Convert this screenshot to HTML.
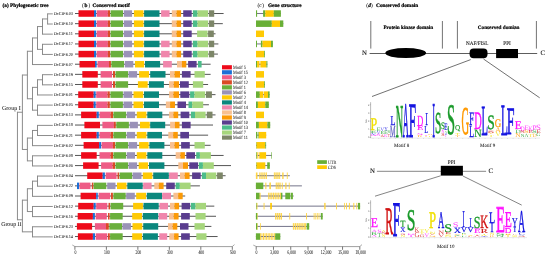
<!DOCTYPE html>
<html><head><meta charset="utf-8"><style>
html,body{margin:0;padding:0;background:#fff;width:550px;height:257px;overflow:hidden}
svg{display:block;will-change:transform}
text{font-family:"Liberation Serif",serif;text-rendering:geometricPrecision}
.lb{font-size:4.35px;fill:#222;stroke:#222;stroke-width:0.03px}
.lg{font-size:4.85px;fill:#222;stroke:#222;stroke-width:0.03px}
.ax{font-size:5.7px;fill:#222;stroke:#222;stroke-width:0.05px}
.hd{font-size:5.25px;font-weight:bold;fill:#000;stroke:#000;stroke-width:0.22px}
.gp{font-size:6.0px;fill:#222;stroke:#222;stroke-width:0.06px}
.dh{font-size:5.2px;font-weight:bold;fill:#000;stroke:#000;stroke-width:0.2px}
.dm{font-size:5.2px;fill:#111;stroke:#111;stroke-width:0.08px}
.nc{font-size:6.8px;fill:#111;stroke:#111;stroke-width:0.1px}
.mt{font-size:5.0px;fill:#111;stroke:#111;stroke-width:0.04px}
.lo{font-family:"Liberation Serif",serif;font-size:10px}
.tk{font-size:2.6px;fill:#555}
</style></head><body>
<svg width="550" height="257" viewBox="0 0 550 257">
<rect width="550" height="257" fill="#fff"/>
<path d="M47.60 13.43L47.60 24.47 M47.60 13.88L52.80 13.88 M47.60 24.02L52.80 24.02 M42.50 18.50L42.50 34.60 M42.50 18.95L47.60 18.95 M42.50 34.15L52.80 34.15 M42.50 43.84L42.50 54.88 M42.50 44.29L52.80 44.29 M42.50 54.43L52.80 54.43 M37.50 26.10L37.50 49.81 M37.50 26.55L42.50 26.55 M37.50 49.36L42.50 49.36 M32.50 37.51L32.50 65.02 M32.50 37.96L37.50 37.96 M32.50 64.56L52.80 64.56 M42.50 74.25L42.50 85.29 M42.50 74.70L52.80 74.70 M42.50 84.84L52.80 84.84 M37.50 79.32L37.50 95.43 M37.50 79.77L42.50 79.77 M37.50 94.98L52.80 94.98 M37.50 104.66L37.50 115.70 M37.50 105.11L52.80 105.11 M37.50 115.25L52.80 115.25 M32.50 86.92L32.50 110.63 M32.50 87.37L37.50 87.37 M32.50 110.18L37.50 110.18 M27.40 50.81L27.40 99.23 M27.40 51.26L32.50 51.26 M27.40 98.78L32.50 98.78 M37.50 124.94L37.50 135.97 M37.50 125.39L52.80 125.39 M37.50 135.52L52.80 135.52 M32.50 130.01L32.50 146.11 M32.50 130.46L37.50 130.46 M32.50 145.66L52.80 145.66 M32.50 155.35L32.50 166.38 M32.50 155.80L52.80 155.80 M32.50 165.94L52.80 165.94 M27.40 137.61L27.40 161.32 M27.40 138.06L32.50 138.06 M27.40 160.87L32.50 160.87 M22.40 74.57L22.40 149.91 M22.40 75.02L27.40 75.02 M22.40 149.46L27.40 149.46 M37.50 175.62L37.50 186.66 M37.50 176.07L52.80 176.07 M37.50 186.21L52.80 186.21 M32.50 180.69L32.50 196.80 M32.50 181.14L37.50 181.14 M32.50 196.35L52.80 196.35 M32.50 206.03L32.50 217.07 M32.50 206.48L52.80 206.48 M32.50 216.62L52.80 216.62 M27.40 188.29L27.40 212.00 M27.40 188.74L32.50 188.74 M27.40 211.55L32.50 211.55 M32.50 226.31L32.50 237.34 M32.50 226.76L52.80 226.76 M32.50 236.89L52.80 236.89 M22.40 199.70L22.40 232.28 M22.40 200.15L27.40 200.15 M22.40 231.83L32.50 231.83 M17.45 111.79L17.45 220.20 M17.45 112.24L22.40 112.24 M17.45 219.75L22.40 219.75" stroke="#7f7f7f" stroke-width="0.9" fill="none"/>
<text x="53.7" y="14.98" class="lb">DcCIPK03</text>
<text x="53.7" y="25.12" class="lb">DcCIPK10</text>
<text x="53.7" y="35.25" class="lb">DcCIPK11</text>
<text x="53.7" y="45.39" class="lb">DcCIPK17</text>
<text x="53.7" y="55.53" class="lb">DcCIPK20</text>
<text x="53.7" y="65.67" class="lb">DcCIPK07</text>
<text x="53.7" y="75.80" class="lb">DcCIPK19</text>
<text x="53.7" y="85.94" class="lb">DcCIPK15</text>
<text x="53.7" y="96.08" class="lb">DcCIPK01</text>
<text x="53.7" y="106.21" class="lb">DcCIPK05</text>
<text x="53.7" y="116.35" class="lb">DcCIPK13</text>
<text x="53.7" y="126.49" class="lb">DcCIPK18</text>
<text x="53.7" y="136.62" class="lb">DcCIPK21</text>
<text x="53.7" y="146.76" class="lb">DcCIPK02</text>
<text x="53.7" y="156.90" class="lb">DcCIPK08</text>
<text x="53.7" y="167.03" class="lb">DcCIPK06</text>
<text x="53.7" y="177.17" class="lb">DcCIPK04</text>
<text x="53.7" y="187.31" class="lb">DcCIPK22</text>
<text x="53.7" y="197.45" class="lb">DcCIPK09</text>
<text x="53.7" y="207.58" class="lb">DcCIPK12</text>
<text x="53.7" y="217.72" class="lb">DcCIPK16</text>
<text x="53.7" y="227.86" class="lb">DcCIPK23</text>
<text x="53.7" y="237.99" class="lb">DcCIPK14</text>
<line x1="75" y1="13.53" x2="223.6" y2="13.53" stroke="#555" stroke-width="1"/>
<rect x="78.5" y="10.28" width="15.50" height="6.5" fill="#ee0a1a"/>
<rect x="94" y="10.28" width="2.10" height="6.5" fill="#1a6fd6"/>
<rect x="96.7" y="10.28" width="11.20" height="6.5" fill="#ee5c86"/>
<rect x="107.9" y="10.28" width="2.20" height="6.5" fill="#da4a26"/>
<rect x="110.6" y="10.28" width="12.40" height="6.5" fill="#6aaf3c"/>
<rect x="123.8" y="10.28" width="8.30" height="6.5" fill="#9a92b8"/>
<rect x="133.9" y="10.28" width="9.60" height="6.5" fill="#ffca04"/>
<rect x="144.1" y="10.28" width="15.40" height="6.5" fill="#0a877d"/>
<rect x="161.1" y="10.28" width="8.50" height="6.5" fill="#f086ac"/>
<rect x="171.8" y="10.28" width="4.70" height="6.5" fill="#f8c090"/>
<rect x="176.5" y="10.28" width="4.60" height="6.5" fill="#fb9a06"/>
<rect x="183.2" y="10.28" width="8.50" height="6.5" fill="#5a3d8e"/>
<rect x="192.9" y="10.28" width="4.60" height="6.5" fill="#4cbc8a"/>
<rect x="197.5" y="10.28" width="10.60" height="6.5" fill="#a6d67c"/>
<rect x="208.9" y="10.28" width="5.30" height="6.5" fill="#7d8668"/>
<line x1="75" y1="23.67" x2="222.8" y2="23.67" stroke="#555" stroke-width="1"/>
<rect x="78.5" y="20.42" width="15.50" height="6.5" fill="#ee0a1a"/>
<rect x="94" y="20.42" width="2.10" height="6.5" fill="#1a6fd6"/>
<rect x="96.7" y="20.42" width="11.20" height="6.5" fill="#ee5c86"/>
<rect x="107.9" y="20.42" width="2.20" height="6.5" fill="#da4a26"/>
<rect x="110.6" y="20.42" width="12.40" height="6.5" fill="#6aaf3c"/>
<rect x="123.8" y="20.42" width="8.30" height="6.5" fill="#9a92b8"/>
<rect x="133.9" y="20.42" width="9.60" height="6.5" fill="#ffca04"/>
<rect x="144.1" y="20.42" width="15.40" height="6.5" fill="#0a877d"/>
<rect x="171.8" y="20.42" width="4.70" height="6.5" fill="#f8c090"/>
<rect x="176.5" y="20.42" width="4.60" height="6.5" fill="#fb9a06"/>
<rect x="183.2" y="20.42" width="8.50" height="6.5" fill="#5a3d8e"/>
<rect x="192.9" y="20.42" width="4.60" height="6.5" fill="#4cbc8a"/>
<rect x="197.5" y="20.42" width="10.60" height="6.5" fill="#a6d67c"/>
<rect x="208.9" y="20.42" width="5.30" height="6.5" fill="#7d8668"/>
<line x1="75" y1="33.80" x2="215.5" y2="33.80" stroke="#555" stroke-width="1"/>
<rect x="78.5" y="30.55" width="15.50" height="6.5" fill="#ee0a1a"/>
<rect x="94" y="30.55" width="2.10" height="6.5" fill="#1a6fd6"/>
<rect x="96.7" y="30.55" width="11.20" height="6.5" fill="#ee5c86"/>
<rect x="107.9" y="30.55" width="2.20" height="6.5" fill="#da4a26"/>
<rect x="110.6" y="30.55" width="12.40" height="6.5" fill="#6aaf3c"/>
<rect x="123.8" y="30.55" width="8.30" height="6.5" fill="#9a92b8"/>
<rect x="133.9" y="30.55" width="9.60" height="6.5" fill="#ffca04"/>
<rect x="144.1" y="30.55" width="15.40" height="6.5" fill="#0a877d"/>
<rect x="171.8" y="30.55" width="4.70" height="6.5" fill="#f8c090"/>
<rect x="176.5" y="30.55" width="4.60" height="6.5" fill="#fb9a06"/>
<rect x="183.2" y="30.55" width="8.50" height="6.5" fill="#5a3d8e"/>
<rect x="197.1" y="30.55" width="10.50" height="6.5" fill="#a6d67c"/>
<rect x="208.1" y="30.55" width="5.70" height="6.5" fill="#7d8668"/>
<line x1="75" y1="43.94" x2="218.4" y2="43.94" stroke="#555" stroke-width="1"/>
<rect x="78.5" y="40.69" width="15.50" height="6.5" fill="#ee0a1a"/>
<rect x="94" y="40.69" width="2.10" height="6.5" fill="#1a6fd6"/>
<rect x="96.7" y="40.69" width="11.20" height="6.5" fill="#ee5c86"/>
<rect x="107.9" y="40.69" width="2.20" height="6.5" fill="#da4a26"/>
<rect x="110.6" y="40.69" width="12.40" height="6.5" fill="#6aaf3c"/>
<rect x="123.8" y="40.69" width="8.30" height="6.5" fill="#9a92b8"/>
<rect x="133.9" y="40.69" width="9.60" height="6.5" fill="#ffca04"/>
<rect x="144.1" y="40.69" width="15.40" height="6.5" fill="#0a877d"/>
<rect x="161.1" y="40.69" width="8.50" height="6.5" fill="#f086ac"/>
<rect x="171.8" y="40.69" width="4.70" height="6.5" fill="#f8c090"/>
<rect x="176.5" y="40.69" width="4.60" height="6.5" fill="#fb9a06"/>
<rect x="183.2" y="40.69" width="8.50" height="6.5" fill="#5a3d8e"/>
<rect x="192.9" y="40.69" width="4.60" height="6.5" fill="#4cbc8a"/>
<rect x="197.5" y="40.69" width="10.60" height="6.5" fill="#a6d67c"/>
<rect x="208.9" y="40.69" width="5.30" height="6.5" fill="#7d8668"/>
<line x1="75" y1="54.08" x2="217.9" y2="54.08" stroke="#555" stroke-width="1"/>
<rect x="78.5" y="50.83" width="15.50" height="6.5" fill="#ee0a1a"/>
<rect x="94" y="50.83" width="2.10" height="6.5" fill="#1a6fd6"/>
<rect x="96.7" y="50.83" width="11.20" height="6.5" fill="#ee5c86"/>
<rect x="107.9" y="50.83" width="2.20" height="6.5" fill="#da4a26"/>
<rect x="110.6" y="50.83" width="12.40" height="6.5" fill="#6aaf3c"/>
<rect x="123.8" y="50.83" width="8.30" height="6.5" fill="#9a92b8"/>
<rect x="133.9" y="50.83" width="9.60" height="6.5" fill="#ffca04"/>
<rect x="144.1" y="50.83" width="15.40" height="6.5" fill="#0a877d"/>
<rect x="161.1" y="50.83" width="8.50" height="6.5" fill="#f086ac"/>
<rect x="171.8" y="50.83" width="4.70" height="6.5" fill="#f8c090"/>
<rect x="176.5" y="50.83" width="4.60" height="6.5" fill="#fb9a06"/>
<rect x="183.2" y="50.83" width="8.50" height="6.5" fill="#5a3d8e"/>
<rect x="192.9" y="50.83" width="4.60" height="6.5" fill="#4cbc8a"/>
<rect x="197.5" y="50.83" width="10.60" height="6.5" fill="#a6d67c"/>
<rect x="208.9" y="50.83" width="5.30" height="6.5" fill="#7d8668"/>
<line x1="75" y1="64.22" x2="210.6" y2="64.22" stroke="#555" stroke-width="1"/>
<rect x="79.5" y="60.97" width="15.50" height="6.5" fill="#ee0a1a"/>
<rect x="95" y="60.97" width="1.70" height="6.5" fill="#1a6fd6"/>
<rect x="97.5" y="60.97" width="11.50" height="6.5" fill="#ee5c86"/>
<rect x="109" y="60.97" width="1.90" height="6.5" fill="#da4a26"/>
<rect x="111.4" y="60.97" width="12.60" height="6.5" fill="#6aaf3c"/>
<rect x="124.8" y="60.97" width="8.50" height="6.5" fill="#9a92b8"/>
<rect x="135" y="60.97" width="9.10" height="6.5" fill="#ffca04"/>
<rect x="145" y="60.97" width="15.10" height="6.5" fill="#0a877d"/>
<rect x="163.1" y="60.97" width="8.70" height="6.5" fill="#f086ac"/>
<rect x="177" y="60.97" width="4.90" height="6.5" fill="#f8c090"/>
<rect x="181.9" y="60.97" width="4.40" height="6.5" fill="#fb9a06"/>
<rect x="188.1" y="60.97" width="8.50" height="6.5" fill="#5a3d8e"/>
<rect x="198" y="60.97" width="3.60" height="6.5" fill="#4cbc8a"/>
<line x1="75" y1="74.35" x2="210.6" y2="74.35" stroke="#555" stroke-width="1"/>
<rect x="82.3" y="71.10" width="15.50" height="6.5" fill="#ee0a1a"/>
<rect x="100.6" y="71.10" width="11.50" height="6.5" fill="#ee5c86"/>
<rect x="113" y="71.10" width="2.00" height="6.5" fill="#da4a26"/>
<rect x="115.5" y="71.10" width="12.60" height="6.5" fill="#6aaf3c"/>
<rect x="128.6" y="71.10" width="8.50" height="6.5" fill="#9a92b8"/>
<rect x="139.1" y="71.10" width="9.90" height="6.5" fill="#ffca04"/>
<rect x="150.2" y="71.10" width="15.30" height="6.5" fill="#0a877d"/>
<rect x="170" y="71.10" width="4.50" height="6.5" fill="#f8c090"/>
<rect x="174.5" y="71.10" width="5.50" height="6.5" fill="#fb9a06"/>
<rect x="181.9" y="71.10" width="8.70" height="6.5" fill="#5a3d8e"/>
<rect x="194.5" y="71.10" width="10.30" height="6.5" fill="#a6d67c"/>
<line x1="75" y1="84.49" x2="208.1" y2="84.49" stroke="#555" stroke-width="1"/>
<rect x="82.3" y="81.24" width="15.50" height="6.5" fill="#ee0a1a"/>
<rect x="100.6" y="81.24" width="11.50" height="6.5" fill="#ee5c86"/>
<rect x="113" y="81.24" width="2.00" height="6.5" fill="#da4a26"/>
<rect x="115.5" y="81.24" width="12.60" height="6.5" fill="#6aaf3c"/>
<rect x="137.9" y="81.24" width="9.80" height="6.5" fill="#ffca04"/>
<rect x="148.9" y="81.24" width="15.00" height="6.5" fill="#0a877d"/>
<rect x="169.1" y="81.24" width="4.60" height="6.5" fill="#f8c090"/>
<rect x="173.7" y="81.24" width="5.30" height="6.5" fill="#fb9a06"/>
<rect x="180" y="81.24" width="8.80" height="6.5" fill="#5a3d8e"/>
<rect x="192.9" y="81.24" width="10.30" height="6.5" fill="#a6d67c"/>
<line x1="75" y1="94.63" x2="215.5" y2="94.63" stroke="#555" stroke-width="1"/>
<rect x="78.2" y="91.38" width="15.50" height="6.5" fill="#ee0a1a"/>
<rect x="93.7" y="91.38" width="2.00" height="6.5" fill="#1a6fd6"/>
<rect x="96.2" y="91.38" width="11.40" height="6.5" fill="#ee5c86"/>
<rect x="107.6" y="91.38" width="2.20" height="6.5" fill="#da4a26"/>
<rect x="110.4" y="91.38" width="12.50" height="6.5" fill="#6aaf3c"/>
<rect x="123.5" y="91.38" width="8.70" height="6.5" fill="#9a92b8"/>
<rect x="133.5" y="91.38" width="9.70" height="6.5" fill="#ffca04"/>
<rect x="144" y="91.38" width="15.00" height="6.5" fill="#0a877d"/>
<rect x="169.1" y="91.38" width="4.30" height="6.5" fill="#f8c090"/>
<rect x="173.4" y="91.38" width="5.60" height="6.5" fill="#fb9a06"/>
<rect x="180.3" y="91.38" width="9.00" height="6.5" fill="#5a3d8e"/>
<rect x="190.1" y="91.38" width="4.40" height="6.5" fill="#4cbc8a"/>
<rect x="194.5" y="91.38" width="10.70" height="6.5" fill="#a6d67c"/>
<rect x="206" y="91.38" width="5.90" height="6.5" fill="#7d8668"/>
<line x1="75" y1="104.76" x2="208.9" y2="104.76" stroke="#555" stroke-width="1"/>
<rect x="78.2" y="101.51" width="15.50" height="6.5" fill="#ee0a1a"/>
<rect x="93.7" y="101.51" width="2.00" height="6.5" fill="#1a6fd6"/>
<rect x="96.2" y="101.51" width="11.40" height="6.5" fill="#ee5c86"/>
<rect x="107.6" y="101.51" width="2.20" height="6.5" fill="#da4a26"/>
<rect x="110.4" y="101.51" width="12.50" height="6.5" fill="#6aaf3c"/>
<rect x="123.5" y="101.51" width="8.70" height="6.5" fill="#9a92b8"/>
<rect x="133.5" y="101.51" width="9.70" height="6.5" fill="#ffca04"/>
<rect x="144" y="101.51" width="15.00" height="6.5" fill="#0a877d"/>
<rect x="165.9" y="101.51" width="4.20" height="6.5" fill="#f8c090"/>
<rect x="170.1" y="101.51" width="4.90" height="6.5" fill="#fb9a06"/>
<rect x="177.5" y="101.51" width="8.50" height="6.5" fill="#5a3d8e"/>
<rect x="188.5" y="101.51" width="3.70" height="6.5" fill="#4cbc8a"/>
<rect x="192.2" y="101.51" width="11.00" height="6.5" fill="#a6d67c"/>
<line x1="75" y1="114.90" x2="215.5" y2="114.90" stroke="#555" stroke-width="1"/>
<rect x="81.1" y="111.65" width="15.60" height="6.5" fill="#ee0a1a"/>
<rect x="96.7" y="111.65" width="2.10" height="6.5" fill="#1a6fd6"/>
<rect x="99.5" y="111.65" width="11.10" height="6.5" fill="#ee5c86"/>
<rect x="110.6" y="111.65" width="2.40" height="6.5" fill="#da4a26"/>
<rect x="113.4" y="111.65" width="12.70" height="6.5" fill="#6aaf3c"/>
<rect x="126.8" y="111.65" width="8.30" height="6.5" fill="#9a92b8"/>
<rect x="136.8" y="111.65" width="9.60" height="6.5" fill="#ffca04"/>
<rect x="147.3" y="111.65" width="15.00" height="6.5" fill="#0a877d"/>
<rect x="169.1" y="111.65" width="4.30" height="6.5" fill="#f8c090"/>
<rect x="173.4" y="111.65" width="4.80" height="6.5" fill="#fb9a06"/>
<rect x="180.6" y="111.65" width="8.70" height="6.5" fill="#5a3d8e"/>
<rect x="190.9" y="111.65" width="4.10" height="6.5" fill="#4cbc8a"/>
<rect x="195" y="111.65" width="10.60" height="6.5" fill="#a6d67c"/>
<rect x="206.8" y="111.65" width="5.70" height="6.5" fill="#7d8668"/>
<line x1="75" y1="125.04" x2="213.0" y2="125.04" stroke="#555" stroke-width="1"/>
<rect x="84.4" y="121.79" width="15.60" height="6.5" fill="#ee0a1a"/>
<rect x="102.4" y="121.79" width="11.50" height="6.5" fill="#ee5c86"/>
<rect x="113.9" y="121.79" width="1.90" height="6.5" fill="#da4a26"/>
<rect x="116.3" y="121.79" width="12.60" height="6.5" fill="#6aaf3c"/>
<rect x="129.7" y="121.79" width="8.20" height="6.5" fill="#9a92b8"/>
<rect x="140" y="121.79" width="9.70" height="6.5" fill="#ffca04"/>
<rect x="150.2" y="121.79" width="15.00" height="6.5" fill="#0a877d"/>
<rect x="170.1" y="121.79" width="4.80" height="6.5" fill="#f8c090"/>
<rect x="174.9" y="121.79" width="4.60" height="6.5" fill="#fb9a06"/>
<rect x="181.9" y="121.79" width="8.70" height="6.5" fill="#5a3d8e"/>
<line x1="75" y1="135.17" x2="208.1" y2="135.17" stroke="#555" stroke-width="1"/>
<rect x="81.1" y="131.92" width="15.60" height="6.5" fill="#ee0a1a"/>
<rect x="96.7" y="131.92" width="2.10" height="6.5" fill="#1a6fd6"/>
<rect x="99.5" y="131.92" width="11.10" height="6.5" fill="#ee5c86"/>
<rect x="110.6" y="131.92" width="2.40" height="6.5" fill="#da4a26"/>
<rect x="113.4" y="131.92" width="12.70" height="6.5" fill="#6aaf3c"/>
<rect x="126.8" y="131.92" width="8.30" height="6.5" fill="#9a92b8"/>
<rect x="136.8" y="131.92" width="9.60" height="6.5" fill="#ffca04"/>
<rect x="147.3" y="131.92" width="14.70" height="6.5" fill="#0a877d"/>
<rect x="168.3" y="131.92" width="4.90" height="6.5" fill="#f8c090"/>
<rect x="173.2" y="131.92" width="4.60" height="6.5" fill="#fb9a06"/>
<rect x="180.3" y="131.92" width="8.70" height="6.5" fill="#5a3d8e"/>
<line x1="75" y1="145.31" x2="210.6" y2="145.31" stroke="#555" stroke-width="1"/>
<rect x="83.6" y="142.06" width="15.50" height="6.5" fill="#ee0a1a"/>
<rect x="99.1" y="142.06" width="2.00" height="6.5" fill="#1a6fd6"/>
<rect x="101.6" y="142.06" width="11.30" height="6.5" fill="#ee5c86"/>
<rect x="112.9" y="142.06" width="2.10" height="6.5" fill="#da4a26"/>
<rect x="115.5" y="142.06" width="12.60" height="6.5" fill="#6aaf3c"/>
<rect x="128.6" y="142.06" width="8.50" height="6.5" fill="#9a92b8"/>
<rect x="139.1" y="142.06" width="9.50" height="6.5" fill="#ffca04"/>
<rect x="149.4" y="142.06" width="15.00" height="6.5" fill="#0a877d"/>
<rect x="170" y="142.06" width="4.50" height="6.5" fill="#f8c090"/>
<rect x="174.5" y="142.06" width="4.60" height="6.5" fill="#fb9a06"/>
<rect x="181.1" y="142.06" width="8.70" height="6.5" fill="#5a3d8e"/>
<rect x="194.5" y="142.06" width="10.30" height="6.5" fill="#a6d67c"/>
<line x1="75" y1="155.45" x2="223.6" y2="155.45" stroke="#555" stroke-width="1"/>
<rect x="81.1" y="152.20" width="15.60" height="6.5" fill="#ee0a1a"/>
<rect x="99.5" y="152.20" width="11.10" height="6.5" fill="#ee5c86"/>
<rect x="110.6" y="152.20" width="2.40" height="6.5" fill="#da4a26"/>
<rect x="113.4" y="152.20" width="12.70" height="6.5" fill="#6aaf3c"/>
<rect x="126.8" y="152.20" width="8.20" height="6.5" fill="#9a92b8"/>
<rect x="136.8" y="152.20" width="9.60" height="6.5" fill="#ffca04"/>
<rect x="147.3" y="152.20" width="15.00" height="6.5" fill="#0a877d"/>
<rect x="175.7" y="152.20" width="4.60" height="6.5" fill="#f8c090"/>
<rect x="180.3" y="152.20" width="4.60" height="6.5" fill="#fb9a06"/>
<rect x="186.3" y="152.20" width="8.70" height="6.5" fill="#5a3d8e"/>
<rect x="196.2" y="152.20" width="3.70" height="6.5" fill="#4cbc8a"/>
<rect x="199.9" y="152.20" width="11.00" height="6.5" fill="#a6d67c"/>
<line x1="75" y1="165.59" x2="231.0" y2="165.59" stroke="#555" stroke-width="1"/>
<rect x="83.1" y="162.34" width="15.50" height="6.5" fill="#ee0a1a"/>
<rect x="101.1" y="162.34" width="11.50" height="6.5" fill="#ee5c86"/>
<rect x="112.6" y="162.34" width="2.40" height="6.5" fill="#da4a26"/>
<rect x="115.5" y="162.34" width="12.60" height="6.5" fill="#6aaf3c"/>
<rect x="128.6" y="162.34" width="8.50" height="6.5" fill="#9a92b8"/>
<rect x="138.7" y="162.34" width="9.40" height="6.5" fill="#ffca04"/>
<rect x="149" y="162.34" width="15.40" height="6.5" fill="#0a877d"/>
<rect x="178.3" y="162.34" width="4.70" height="6.5" fill="#f8c090"/>
<rect x="183" y="162.34" width="5.00" height="6.5" fill="#fb9a06"/>
<rect x="189.3" y="162.34" width="8.70" height="6.5" fill="#5a3d8e"/>
<rect x="198.8" y="162.34" width="4.10" height="6.5" fill="#4cbc8a"/>
<rect x="202.9" y="162.34" width="10.90" height="6.5" fill="#a6d67c"/>
<line x1="75" y1="175.72" x2="225.6" y2="175.72" stroke="#555" stroke-width="1"/>
<rect x="87.2" y="172.47" width="15.50" height="6.5" fill="#ee0a1a"/>
<rect x="102.7" y="172.47" width="2.20" height="6.5" fill="#1a6fd6"/>
<rect x="105.7" y="172.47" width="10.90" height="6.5" fill="#ee5c86"/>
<rect x="117.5" y="172.47" width="1.60" height="6.5" fill="#da4a26"/>
<rect x="119.6" y="172.47" width="12.60" height="6.5" fill="#6aaf3c"/>
<rect x="132.7" y="172.47" width="8.80" height="6.5" fill="#9a92b8"/>
<rect x="142.8" y="172.47" width="9.60" height="6.5" fill="#ffca04"/>
<rect x="153.2" y="172.47" width="15.60" height="6.5" fill="#0a877d"/>
<rect x="169.1" y="172.47" width="8.70" height="6.5" fill="#f086ac"/>
<rect x="180" y="172.47" width="4.70" height="6.5" fill="#f8c090"/>
<rect x="184.7" y="172.47" width="4.90" height="6.5" fill="#fb9a06"/>
<rect x="192.1" y="172.47" width="8.60" height="6.5" fill="#5a3d8e"/>
<rect x="201.9" y="172.47" width="4.10" height="6.5" fill="#4cbc8a"/>
<rect x="206" y="172.47" width="10.30" height="6.5" fill="#a6d67c"/>
<rect x="217.1" y="172.47" width="5.70" height="6.5" fill="#7d8668"/>
<line x1="75" y1="185.86" x2="199.9" y2="185.86" stroke="#555" stroke-width="1"/>
<rect x="77" y="182.61" width="2.00" height="6.5" fill="#1a6fd6"/>
<rect x="79.5" y="182.61" width="11.00" height="6.5" fill="#ee5c86"/>
<rect x="91.8" y="182.61" width="1.60" height="6.5" fill="#da4a26"/>
<rect x="93.7" y="182.61" width="12.60" height="6.5" fill="#6aaf3c"/>
<rect x="107.2" y="182.61" width="8.30" height="6.5" fill="#9a92b8"/>
<rect x="117" y="182.61" width="9.50" height="6.5" fill="#ffca04"/>
<rect x="127.3" y="182.61" width="15.40" height="6.5" fill="#0a877d"/>
<rect x="143.2" y="182.61" width="8.40" height="6.5" fill="#f086ac"/>
<rect x="154.3" y="182.61" width="4.50" height="6.5" fill="#f8c090"/>
<rect x="158.8" y="182.61" width="4.80" height="6.5" fill="#fb9a06"/>
<rect x="166.2" y="182.61" width="8.60" height="6.5" fill="#5a3d8e"/>
<rect x="175.7" y="182.61" width="4.10" height="6.5" fill="#4cbc8a"/>
<rect x="179.8" y="182.61" width="10.80" height="6.5" fill="#a6d67c"/>
<line x1="75" y1="196.00" x2="185.2" y2="196.00" stroke="#555" stroke-width="1"/>
<rect x="80.6" y="192.75" width="15.60" height="6.5" fill="#ee0a1a"/>
<rect x="96.2" y="192.75" width="1.60" height="6.5" fill="#1a6fd6"/>
<rect x="98.6" y="192.75" width="11.50" height="6.5" fill="#ee5c86"/>
<rect x="110.9" y="192.75" width="2.00" height="6.5" fill="#da4a26"/>
<rect x="113.4" y="192.75" width="12.30" height="6.5" fill="#6aaf3c"/>
<rect x="126.2" y="192.75" width="8.60" height="6.5" fill="#9a92b8"/>
<rect x="136.2" y="192.75" width="9.80" height="6.5" fill="#ffca04"/>
<rect x="146.8" y="192.75" width="15.20" height="6.5" fill="#0a877d"/>
<rect x="162.2" y="192.75" width="8.80" height="6.5" fill="#f086ac"/>
<rect x="173.4" y="192.75" width="4.80" height="6.5" fill="#f8c090"/>
<rect x="178.2" y="192.75" width="4.50" height="6.5" fill="#fb9a06"/>
<line x1="75" y1="206.13" x2="214.3" y2="206.13" stroke="#555" stroke-width="1"/>
<rect x="78.2" y="202.88" width="15.50" height="6.5" fill="#ee0a1a"/>
<rect x="93.7" y="202.88" width="2.00" height="6.5" fill="#1a6fd6"/>
<rect x="96.2" y="202.88" width="11.10" height="6.5" fill="#ee5c86"/>
<rect x="108.5" y="202.88" width="1.60" height="6.5" fill="#da4a26"/>
<rect x="110.6" y="202.88" width="12.60" height="6.5" fill="#6aaf3c"/>
<rect x="133.1" y="202.88" width="9.80" height="6.5" fill="#ffca04"/>
<rect x="143.5" y="202.88" width="15.20" height="6.5" fill="#0a877d"/>
<rect x="159.5" y="202.88" width="8.50" height="6.5" fill="#f086ac"/>
<rect x="170" y="202.88" width="4.40" height="6.5" fill="#f8c090"/>
<rect x="174.4" y="202.88" width="4.70" height="6.5" fill="#fb9a06"/>
<rect x="181.6" y="202.88" width="8.50" height="6.5" fill="#5a3d8e"/>
<rect x="190.9" y="202.88" width="4.60" height="6.5" fill="#4cbc8a"/>
<rect x="195.5" y="202.88" width="10.50" height="6.5" fill="#a6d67c"/>
<line x1="75" y1="216.27" x2="216.0" y2="216.27" stroke="#555" stroke-width="1"/>
<rect x="77.7" y="213.02" width="15.20" height="6.5" fill="#ee0a1a"/>
<rect x="92.9" y="213.02" width="2.00" height="6.5" fill="#1a6fd6"/>
<rect x="95.7" y="213.02" width="11.10" height="6.5" fill="#ee5c86"/>
<rect x="108" y="213.02" width="1.60" height="6.5" fill="#da4a26"/>
<rect x="110.1" y="213.02" width="12.60" height="6.5" fill="#6aaf3c"/>
<rect x="132.2" y="213.02" width="9.80" height="6.5" fill="#ffca04"/>
<rect x="142.8" y="213.02" width="15.40" height="6.5" fill="#0a877d"/>
<rect x="158.7" y="213.02" width="8.50" height="6.5" fill="#f086ac"/>
<rect x="169.1" y="213.02" width="4.60" height="6.5" fill="#f8c090"/>
<rect x="173.7" y="213.02" width="4.90" height="6.5" fill="#fb9a06"/>
<rect x="181.1" y="213.02" width="8.70" height="6.5" fill="#5a3d8e"/>
<rect x="195.5" y="213.02" width="10.10" height="6.5" fill="#a6d67c"/>
<line x1="75" y1="226.41" x2="211.4" y2="226.41" stroke="#555" stroke-width="1"/>
<rect x="76.9" y="223.16" width="15.20" height="6.5" fill="#ee0a1a"/>
<rect x="94.9" y="223.16" width="11.10" height="6.5" fill="#ee5c86"/>
<rect x="106" y="223.16" width="2.80" height="6.5" fill="#da4a26"/>
<rect x="109.3" y="223.16" width="12.70" height="6.5" fill="#6aaf3c"/>
<rect x="122.4" y="223.16" width="8.50" height="6.5" fill="#9a92b8"/>
<rect x="132.5" y="223.16" width="9.80" height="6.5" fill="#ffca04"/>
<rect x="143.2" y="223.16" width="15.00" height="6.5" fill="#0a877d"/>
<rect x="168" y="223.16" width="4.60" height="6.5" fill="#f8c090"/>
<rect x="172.6" y="223.16" width="4.70" height="6.5" fill="#fb9a06"/>
<rect x="180" y="223.16" width="8.50" height="6.5" fill="#5a3d8e"/>
<rect x="194.5" y="223.16" width="10.30" height="6.5" fill="#a6d67c"/>
<line x1="75" y1="236.54" x2="217.6" y2="236.54" stroke="#555" stroke-width="1"/>
<rect x="77.9" y="233.29" width="15.00" height="6.5" fill="#ee0a1a"/>
<rect x="92.9" y="233.29" width="2.10" height="6.5" fill="#1a6fd6"/>
<rect x="95.7" y="233.29" width="11.60" height="6.5" fill="#ee5c86"/>
<rect x="108" y="233.29" width="1.80" height="6.5" fill="#da4a26"/>
<rect x="110.1" y="233.29" width="12.60" height="6.5" fill="#6aaf3c"/>
<rect x="132.2" y="233.29" width="9.80" height="6.5" fill="#ffca04"/>
<rect x="142.8" y="233.29" width="15.10" height="6.5" fill="#0a877d"/>
<rect x="159.3" y="233.29" width="7.90" height="6.5" fill="#f086ac"/>
<rect x="169.3" y="233.29" width="4.80" height="6.5" fill="#f8c090"/>
<rect x="174.1" y="233.29" width="4.50" height="6.5" fill="#fb9a06"/>
<rect x="181.1" y="233.29" width="8.70" height="6.5" fill="#5a3d8e"/>
<rect x="196.3" y="233.29" width="10.20" height="6.5" fill="#a6d67c"/>
<rect x="222" y="65.20" width="9.9" height="4.2" fill="#ee0a1a"/>
<text transform="translate(232.9,68.85) scale(0.88,1)" class="lg">Motif 5</text>
<rect x="222" y="70.22" width="9.9" height="4.2" fill="#1a6fd6"/>
<text transform="translate(232.9,73.87) scale(0.88,1)" class="lg">Motif 15</text>
<rect x="222" y="75.24" width="9.9" height="4.2" fill="#ee5c86"/>
<text transform="translate(232.9,78.89) scale(0.88,1)" class="lg">Motif 3</text>
<rect x="222" y="80.26" width="9.9" height="4.2" fill="#da4a26"/>
<text transform="translate(232.9,83.91) scale(0.88,1)" class="lg">Motif 12</text>
<rect x="222" y="85.28" width="9.9" height="4.2" fill="#6aaf3c"/>
<text transform="translate(232.9,88.93) scale(0.88,1)" class="lg">Motif 1</text>
<rect x="222" y="90.30" width="9.9" height="4.2" fill="#9a92b8"/>
<text transform="translate(232.9,93.95) scale(0.88,1)" class="lg">Motif 6</text>
<rect x="222" y="95.32" width="9.9" height="4.2" fill="#ffca04"/>
<text transform="translate(232.9,98.97) scale(0.88,1)" class="lg">Motif 2</text>
<rect x="222" y="100.34" width="9.9" height="4.2" fill="#0a877d"/>
<text transform="translate(232.9,103.99) scale(0.88,1)" class="lg">Motif 4</text>
<rect x="222" y="105.36" width="9.9" height="4.2" fill="#f086ac"/>
<text transform="translate(232.9,109.01) scale(0.88,1)" class="lg">Motif 14</text>
<rect x="222" y="110.38" width="9.9" height="4.2" fill="#f8c090"/>
<text transform="translate(232.9,114.03) scale(0.88,1)" class="lg">Motif 8</text>
<rect x="222" y="115.40" width="9.9" height="4.2" fill="#fb9a06"/>
<text transform="translate(232.9,119.05) scale(0.88,1)" class="lg">Motif 9</text>
<rect x="222" y="120.42" width="9.9" height="4.2" fill="#5a3d8e"/>
<text transform="translate(232.9,124.07) scale(0.88,1)" class="lg">Motif 10</text>
<rect x="222" y="125.44" width="9.9" height="4.2" fill="#4cbc8a"/>
<text transform="translate(232.9,129.09) scale(0.88,1)" class="lg">Motif 13</text>
<rect x="222" y="130.46" width="9.9" height="4.2" fill="#a6d67c"/>
<text transform="translate(232.9,134.11) scale(0.88,1)" class="lg">Motif 7</text>
<rect x="222" y="135.48" width="9.9" height="4.2" fill="#7d8668"/>
<text transform="translate(232.9,139.13) scale(0.88,1)" class="lg">Motif 11</text>
<line x1="74.6" y1="246.6" x2="232.4" y2="246.6" stroke="#a0a0a0" stroke-width="1"/>
<line x1="74.90" y1="246.6" x2="74.90" y2="249.79999999999998" stroke="#555" stroke-width="0.8"/>
<text transform="translate(75.40,253.8) scale(0.68,1)" class="ax" text-anchor="middle">0</text>
<line x1="106.38" y1="246.6" x2="106.38" y2="249.79999999999998" stroke="#555" stroke-width="0.8"/>
<text transform="translate(106.88,253.8) scale(0.68,1)" class="ax" text-anchor="middle">100</text>
<line x1="137.86" y1="246.6" x2="137.86" y2="249.79999999999998" stroke="#555" stroke-width="0.8"/>
<text transform="translate(138.36,253.8) scale(0.68,1)" class="ax" text-anchor="middle">200</text>
<line x1="169.34" y1="246.6" x2="169.34" y2="249.79999999999998" stroke="#555" stroke-width="0.8"/>
<text transform="translate(169.84,253.8) scale(0.68,1)" class="ax" text-anchor="middle">300</text>
<line x1="200.82" y1="246.6" x2="200.82" y2="249.79999999999998" stroke="#555" stroke-width="0.8"/>
<text transform="translate(201.32,253.8) scale(0.68,1)" class="ax" text-anchor="middle">400</text>
<line x1="232.30" y1="246.6" x2="232.30" y2="249.79999999999998" stroke="#555" stroke-width="0.8"/>
<text transform="translate(232.80,253.8) scale(0.68,1)" class="ax" text-anchor="middle">500</text>
<path d="M72.3 245 L74.9 246.5" stroke="#707070" stroke-width="0.6" fill="none"/>
<path d="M232.3 246.5 L234.5 244.6" stroke="#707070" stroke-width="0.6" fill="none"/>
<line x1="256" y1="13.53" x2="280.9" y2="13.53" stroke="#74748a" stroke-width="1"/>
<rect x="256.00" y="10.28" width="1.10" height="6.5" fill="#69af36"/>
<rect x="263.10" y="10.28" width="2.20" height="6.5" fill="#69af36"/>
<rect x="265.30" y="10.28" width="8.50" height="6.5" fill="#ffca04"/>
<rect x="273.80" y="10.28" width="7.10" height="6.5" fill="#69af36"/>
<line x1="256" y1="23.67" x2="283.3" y2="23.67" stroke="#74748a" stroke-width="1"/>
<rect x="256.00" y="20.42" width="15.80" height="6.5" fill="#69af36"/>
<rect x="271.80" y="20.42" width="8.20" height="6.5" fill="#ffca04"/>
<rect x="280.00" y="20.42" width="3.30" height="6.5" fill="#69af36"/>
<line x1="256" y1="33.80" x2="264" y2="33.80" stroke="#74748a" stroke-width="1"/>
<rect x="256.00" y="30.55" width="8.00" height="6.5" fill="#ffca04"/>
<line x1="256" y1="43.94" x2="272.9" y2="43.94" stroke="#74748a" stroke-width="1"/>
<rect x="256.00" y="40.69" width="1.00" height="6.5" fill="#69af36"/>
<rect x="260.90" y="40.69" width="1.60" height="6.5" fill="#69af36"/>
<rect x="262.50" y="40.69" width="8.50" height="6.5" fill="#ffca04"/>
<rect x="271.00" y="40.69" width="1.90" height="6.5" fill="#69af36"/>
<line x1="256" y1="54.08" x2="265" y2="54.08" stroke="#74748a" stroke-width="1"/>
<rect x="256.00" y="50.83" width="8.20" height="6.5" fill="#ffca04"/>
<rect x="264.20" y="50.83" width="0.80" height="6.5" fill="#69af36"/>
<rect x="259.30" y="60.97" width="1.10" height="6.5" fill="#fde9a6"/>
<line x1="256" y1="64.22" x2="267.4" y2="64.22" stroke="#74748a" stroke-width="1"/>
<rect x="256.00" y="60.97" width="1.10" height="6.5" fill="#69af36"/>
<rect x="257.10" y="60.97" width="2.20" height="6.5" fill="#ffca04"/>
<rect x="260.40" y="60.97" width="6.00" height="6.5" fill="#ffca04"/>
<rect x="266.40" y="60.97" width="1.00" height="6.5" fill="#69af36"/>
<line x1="256" y1="74.35" x2="264" y2="74.35" stroke="#74748a" stroke-width="1"/>
<rect x="256.00" y="71.10" width="8.00" height="6.5" fill="#ffca04"/>
<line x1="256" y1="84.49" x2="265" y2="84.49" stroke="#74748a" stroke-width="1"/>
<rect x="256.00" y="81.24" width="8.20" height="6.5" fill="#ffca04"/>
<rect x="264.20" y="81.24" width="0.80" height="6.5" fill="#69af36"/>
<rect x="263.10" y="91.38" width="0.90" height="6.5" fill="#fde9a6"/>
<line x1="256" y1="94.63" x2="269.6" y2="94.63" stroke="#74748a" stroke-width="1"/>
<rect x="256.00" y="91.38" width="3.80" height="6.5" fill="#69af36"/>
<rect x="259.80" y="91.38" width="3.30" height="6.5" fill="#ffca04"/>
<rect x="264.00" y="91.38" width="4.00" height="6.5" fill="#ffca04"/>
<rect x="268.00" y="91.38" width="1.60" height="6.5" fill="#69af36"/>
<line x1="256" y1="104.76" x2="268.8" y2="104.76" stroke="#74748a" stroke-width="1"/>
<rect x="256.00" y="101.51" width="1.90" height="6.5" fill="#69af36"/>
<rect x="257.90" y="101.51" width="7.40" height="6.5" fill="#ffca04"/>
<rect x="265.30" y="101.51" width="3.50" height="6.5" fill="#69af36"/>
<line x1="256" y1="114.90" x2="264" y2="114.90" stroke="#74748a" stroke-width="1"/>
<rect x="256.00" y="111.65" width="8.00" height="6.5" fill="#ffca04"/>
<line x1="256" y1="125.04" x2="270.2" y2="125.04" stroke="#74748a" stroke-width="1"/>
<rect x="256.00" y="121.79" width="2.90" height="6.5" fill="#69af36"/>
<rect x="258.90" y="121.79" width="8.50" height="6.5" fill="#ffca04"/>
<rect x="267.40" y="121.79" width="2.80" height="6.5" fill="#69af36"/>
<line x1="256" y1="135.17" x2="266.2" y2="135.17" stroke="#74748a" stroke-width="1"/>
<rect x="256.00" y="131.92" width="1.40" height="6.5" fill="#69af36"/>
<rect x="258.20" y="131.92" width="0.60" height="6.5" fill="#69af36"/>
<rect x="258.80" y="131.92" width="7.40" height="6.5" fill="#ffca04"/>
<line x1="256" y1="145.31" x2="266.1" y2="145.31" stroke="#74748a" stroke-width="1"/>
<rect x="256.00" y="142.06" width="0.60" height="6.5" fill="#69af36"/>
<rect x="256.60" y="142.06" width="8.70" height="6.5" fill="#ffca04"/>
<rect x="265.30" y="142.06" width="0.80" height="6.5" fill="#69af36"/>
<rect x="257.90" y="152.20" width="1.40" height="6.5" fill="#fde9a6"/>
<line x1="256" y1="155.45" x2="271.8" y2="155.45" stroke="#74748a" stroke-width="1"/>
<rect x="256.00" y="152.20" width="0.80" height="6.5" fill="#69af36"/>
<rect x="256.80" y="152.20" width="1.10" height="6.5" fill="#fdd445"/>
<rect x="259.30" y="152.20" width="6.80" height="6.5" fill="#ffca04"/>
<rect x="271.20" y="152.20" width="0.60" height="6.5" fill="#69af36"/>
<line x1="256" y1="165.59" x2="269.8" y2="165.59" stroke="#74748a" stroke-width="1"/>
<rect x="256.00" y="162.34" width="0.60" height="6.5" fill="#69af36"/>
<rect x="256.60" y="162.34" width="8.70" height="6.5" fill="#ffca04"/>
<rect x="267.20" y="162.34" width="2.60" height="6.5" fill="#69af36"/>
<rect x="259.40" y="172.47" width="7.40" height="6.5" fill="#fde9a6"/>
<rect x="273.90" y="172.47" width="6.20" height="6.5" fill="#fde9a6"/>
<line x1="255.9" y1="175.72" x2="289.8" y2="175.72" stroke="#74748a" stroke-width="1"/>
<rect x="255.90" y="172.47" width="1.60" height="6.5" fill="#fdd445"/>
<rect x="259.40" y="172.47" width="0.80" height="6.5" fill="#fdd445"/>
<rect x="261.60" y="172.47" width="0.80" height="6.5" fill="#fdd445"/>
<rect x="263.80" y="172.47" width="0.80" height="6.5" fill="#fdd445"/>
<rect x="266.00" y="172.47" width="0.80" height="6.5" fill="#fdd445"/>
<rect x="273.90" y="172.47" width="0.80" height="6.5" fill="#fdd445"/>
<rect x="275.70" y="172.47" width="0.80" height="6.5" fill="#fdd445"/>
<rect x="277.50" y="172.47" width="0.80" height="6.5" fill="#fdd445"/>
<rect x="279.30" y="172.47" width="0.80" height="6.5" fill="#fdd445"/>
<rect x="282.00" y="172.47" width="0.80" height="6.5" fill="#fdd445"/>
<rect x="283.00" y="172.47" width="0.60" height="6.5" fill="#fdd445"/>
<rect x="286.80" y="172.47" width="0.90" height="6.5" fill="#fdd445"/>
<rect x="275.80" y="182.61" width="4.70" height="6.5" fill="#fde9a6"/>
<line x1="255.9" y1="185.86" x2="301.9" y2="185.86" stroke="#74748a" stroke-width="1"/>
<rect x="255.90" y="182.61" width="7.40" height="6.5" fill="#69af36"/>
<rect x="265.30" y="182.61" width="1.10" height="6.5" fill="#fdd445"/>
<rect x="269.30" y="182.61" width="1.30" height="6.5" fill="#fdd445"/>
<rect x="270.00" y="182.61" width="0.80" height="6.5" fill="#fdd445"/>
<rect x="275.80" y="182.61" width="0.80" height="6.5" fill="#fdd445"/>
<rect x="277.75" y="182.61" width="0.80" height="6.5" fill="#fdd445"/>
<rect x="279.70" y="182.61" width="0.80" height="6.5" fill="#fdd445"/>
<rect x="281.80" y="182.61" width="0.90" height="6.5" fill="#fdd445"/>
<rect x="285.30" y="182.61" width="1.20" height="6.5" fill="#fdd445"/>
<rect x="288.80" y="182.61" width="0.80" height="6.5" fill="#fdd445"/>
<rect x="268.30" y="192.75" width="12.70" height="6.5" fill="#fde9a6"/>
<line x1="256" y1="196.00" x2="293.7" y2="196.00" stroke="#74748a" stroke-width="1"/>
<rect x="256.00" y="192.75" width="3.70" height="6.5" fill="#69af36"/>
<rect x="259.70" y="192.75" width="0.90" height="6.5" fill="#fdd445"/>
<rect x="268.30" y="192.75" width="0.90" height="6.5" fill="#fdd445"/>
<rect x="270.66" y="192.75" width="0.90" height="6.5" fill="#fdd445"/>
<rect x="273.02" y="192.75" width="0.90" height="6.5" fill="#fdd445"/>
<rect x="275.38" y="192.75" width="0.90" height="6.5" fill="#fdd445"/>
<rect x="277.74" y="192.75" width="0.90" height="6.5" fill="#fdd445"/>
<rect x="280.10" y="192.75" width="0.90" height="6.5" fill="#fdd445"/>
<rect x="281.00" y="192.75" width="1.40" height="6.5" fill="#69af36"/>
<rect x="285.30" y="192.75" width="5.00" height="6.5" fill="#69af36"/>
<rect x="290.90" y="192.75" width="2.00" height="6.5" fill="#69af36"/>
<line x1="256" y1="206.13" x2="360.1" y2="206.13" stroke="#74748a" stroke-width="1"/>
<rect x="256.00" y="202.88" width="0.70" height="6.5" fill="#69af36"/>
<rect x="256.70" y="202.88" width="0.80" height="6.5" fill="#fdd445"/>
<rect x="263.60" y="202.88" width="0.90" height="6.5" fill="#fdd445"/>
<rect x="270.20" y="202.88" width="1.70" height="6.5" fill="#ffca04"/>
<rect x="324.20" y="202.88" width="1.40" height="6.5" fill="#fdd445"/>
<rect x="336.00" y="202.88" width="0.90" height="6.5" fill="#fdd445"/>
<rect x="344.00" y="202.88" width="0.80" height="6.5" fill="#fdd445"/>
<rect x="346.00" y="202.88" width="0.90" height="6.5" fill="#fdd445"/>
<rect x="348.90" y="202.88" width="1.00" height="6.5" fill="#fdd445"/>
<rect x="353.30" y="202.88" width="1.00" height="6.5" fill="#fdd445"/>
<rect x="356.30" y="202.88" width="0.80" height="6.5" fill="#fdd445"/>
<rect x="357.90" y="202.88" width="2.20" height="6.5" fill="#69af36"/>
<rect x="275.20" y="213.02" width="6.80" height="6.5" fill="#fde9a6"/>
<line x1="255.9" y1="216.27" x2="322.7" y2="216.27" stroke="#74748a" stroke-width="1"/>
<rect x="255.90" y="213.02" width="1.50" height="6.5" fill="#69af36"/>
<rect x="257.40" y="213.02" width="0.50" height="6.5" fill="#fdd445"/>
<rect x="275.20" y="213.02" width="0.90" height="6.5" fill="#fdd445"/>
<rect x="277.17" y="213.02" width="0.90" height="6.5" fill="#fdd445"/>
<rect x="279.13" y="213.02" width="0.90" height="6.5" fill="#fdd445"/>
<rect x="281.10" y="213.02" width="0.90" height="6.5" fill="#fdd445"/>
<rect x="289.30" y="213.02" width="0.90" height="6.5" fill="#fdd445"/>
<rect x="306.00" y="213.02" width="0.90" height="6.5" fill="#fdd445"/>
<rect x="313.70" y="213.02" width="0.80" height="6.5" fill="#fdd445"/>
<rect x="315.40" y="213.02" width="0.80" height="6.5" fill="#fdd445"/>
<rect x="316.90" y="213.02" width="0.80" height="6.5" fill="#fdd445"/>
<rect x="318.60" y="213.02" width="0.80" height="6.5" fill="#fdd445"/>
<rect x="320.80" y="213.02" width="1.90" height="6.5" fill="#69af36"/>
<rect x="292.90" y="223.16" width="11.80" height="6.5" fill="#fde9a6"/>
<line x1="256" y1="226.41" x2="309.2" y2="226.41" stroke="#74748a" stroke-width="1"/>
<rect x="256.00" y="223.16" width="1.40" height="6.5" fill="#69af36"/>
<rect x="257.40" y="223.16" width="0.50" height="6.5" fill="#fdd445"/>
<rect x="260.20" y="223.16" width="0.80" height="6.5" fill="#fdd445"/>
<rect x="292.90" y="223.16" width="0.90" height="6.5" fill="#fdd445"/>
<rect x="295.08" y="223.16" width="0.90" height="6.5" fill="#fdd445"/>
<rect x="297.26" y="223.16" width="0.90" height="6.5" fill="#fdd445"/>
<rect x="299.44" y="223.16" width="0.90" height="6.5" fill="#fdd445"/>
<rect x="301.62" y="223.16" width="0.90" height="6.5" fill="#fdd445"/>
<rect x="303.80" y="223.16" width="0.90" height="6.5" fill="#fdd445"/>
<rect x="305.10" y="223.16" width="0.90" height="6.5" fill="#fdd445"/>
<rect x="306.60" y="223.16" width="2.60" height="6.5" fill="#69af36"/>
<rect x="260.20" y="233.29" width="15.00" height="6.5" fill="#fde9a6"/>
<line x1="255.9" y1="236.54" x2="280.3" y2="236.54" stroke="#74748a" stroke-width="1"/>
<rect x="255.90" y="233.29" width="4.30" height="6.5" fill="#69af36"/>
<rect x="260.20" y="233.29" width="1.00" height="6.5" fill="#fdd445"/>
<rect x="263.00" y="233.29" width="1.00" height="6.5" fill="#fdd445"/>
<rect x="265.80" y="233.29" width="1.00" height="6.5" fill="#fdd445"/>
<rect x="268.60" y="233.29" width="1.00" height="6.5" fill="#fdd445"/>
<rect x="271.40" y="233.29" width="1.00" height="6.5" fill="#fdd445"/>
<rect x="274.20" y="233.29" width="1.00" height="6.5" fill="#fdd445"/>
<rect x="275.20" y="233.29" width="5.10" height="6.5" fill="#69af36"/>
<rect x="317.2" y="160.2" width="9.7" height="3.7" fill="#69af36"/>
<rect x="317.2" y="165.3" width="9.7" height="3.7" fill="#ffca04"/>
<text transform="translate(327.9,163.9) scale(0.86,1)" class="lg">UTR</text>
<text transform="translate(327.9,169.1) scale(0.86,1)" class="lg">CDS</text>
<line x1="256" y1="246.6" x2="359.9" y2="246.6" stroke="#a0a0a0" stroke-width="1"/>
<line x1="256.20" y1="246.6" x2="256.20" y2="249.79999999999998" stroke="#555" stroke-width="0.8"/>
<text transform="translate(256.50,253.8) scale(0.68,1)" class="ax" text-anchor="middle">0</text>
<line x1="273.47" y1="246.6" x2="273.47" y2="249.79999999999998" stroke="#555" stroke-width="0.8"/>
<text transform="translate(274.37,253.8) scale(0.68,1)" class="ax" text-anchor="middle">3,000</text>
<line x1="290.74" y1="246.6" x2="290.74" y2="249.79999999999998" stroke="#555" stroke-width="0.8"/>
<text transform="translate(291.64,253.8) scale(0.68,1)" class="ax" text-anchor="middle">6,000</text>
<line x1="308.01" y1="246.6" x2="308.01" y2="249.79999999999998" stroke="#555" stroke-width="0.8"/>
<text transform="translate(308.91,253.8) scale(0.68,1)" class="ax" text-anchor="middle">9,000</text>
<line x1="325.28" y1="246.6" x2="325.28" y2="249.79999999999998" stroke="#555" stroke-width="0.8"/>
<text transform="translate(326.18,253.8) scale(0.68,1)" class="ax" text-anchor="middle">12,000</text>
<line x1="342.55" y1="246.6" x2="342.55" y2="249.79999999999998" stroke="#555" stroke-width="0.8"/>
<text transform="translate(343.45,253.8) scale(0.68,1)" class="ax" text-anchor="middle">15,000</text>
<line x1="359.82" y1="246.6" x2="359.82" y2="249.79999999999998" stroke="#555" stroke-width="0.8"/>
<text transform="translate(360.72,253.8) scale(0.68,1)" class="ax" text-anchor="middle">18,000</text>
<path d="M253.3 245.1 L256.2 246.5" stroke="#707070" stroke-width="0.6" fill="none"/>
<path d="M359.9 246.5 L362 244.6" stroke="#707070" stroke-width="0.6" fill="none"/>
<text x="2.6" y="6.8" class="hd">(a) Phylogenetic tree</text>
<text x="81.9" y="6.8" class="hd" style="font-weight:normal;stroke-width:0.05px">(</text><text x="84.6" y="6.8" class="hd">b</text><text x="88.4" y="6.8" class="hd" style="font-weight:normal;stroke-width:0.05px">)</text><text x="92.5" y="6.8" class="hd">Conserved motif</text>
<text x="257.4" y="6.8" class="hd" style="font-weight:normal;stroke-width:0.05px">(</text><text x="259.3" y="6.8" class="hd" style="font-weight:normal;stroke-width:0.05px">c</text><text x="262.2" y="6.8" class="hd" style="font-weight:normal;stroke-width:0.05px">)</text><text x="268.0" y="6.8" class="hd">Gene structure</text>
<text x="366.3" y="6.8" class="hd" style="font-weight:normal;stroke-width:0.05px">(</text><text x="368.2" y="6.8" class="hd" style="font-style:italic">d</text><text x="371.1" y="6.8" class="hd" style="font-weight:normal;stroke-width:0.05px">)</text><text x="376.1" y="6.8" class="hd">Conserved domain</text>
<text x="1.9" y="110" class="gp">Group I</text>
<text x="1.2" y="225.6" class="gp" style="font-size:5.85px">Group II</text>
<line x1="370.8" y1="21" x2="370.8" y2="48.6" stroke="#444" stroke-width="0.75"/>
<line x1="442.4" y1="21" x2="442.4" y2="48.6" stroke="#444" stroke-width="0.75"/>
<line x1="457.4" y1="21" x2="457.4" y2="48.6" stroke="#444" stroke-width="0.75"/>
<line x1="536.4" y1="21" x2="536.4" y2="48.6" stroke="#444" stroke-width="0.75"/>
<text x="408.3" y="29.2" class="dh" text-anchor="middle">Protein kinase domain</text>
<text x="498.7" y="29.2" class="dh" text-anchor="middle">Conserved domian</text>
<text x="362.1" y="54.8" class="nc">N</text>
<text x="540.6" y="54.8" class="nc">C</text>
<line x1="369.6" y1="53.5" x2="537.2" y2="53.5" stroke="#333" stroke-width="0.8"/>
<ellipse cx="405.7" cy="53.1" rx="20.4" ry="5" fill="#000"/>
<rect x="469.6" y="48.6" width="17.9" height="9.6" rx="4" fill="#000"/>
<rect x="496.1" y="49" width="21.9" height="9.1" fill="#000"/>
<text x="477.2" y="44.6" class="dm" text-anchor="middle">NAF/FISL</text>
<text x="507" y="44.6" class="dm" text-anchor="middle">PPI</text>
<line x1="470.7" y1="59.6" x2="372" y2="96.5" stroke="#333" stroke-width="0.7"/>
<line x1="483.5" y1="59" x2="539.7" y2="97.8" stroke="#333" stroke-width="0.7"/>
<text x="369.9" y="173.4" class="nc">N</text>
<text x="488.5" y="173.4" class="nc">C</text>
<line x1="376.9" y1="171.3" x2="486.1" y2="171.3" stroke="#333" stroke-width="0.6"/>
<rect x="440.8" y="165.8" width="22.1" height="9.8" fill="#000"/>
<text x="451.6" y="164" class="dm" text-anchor="middle">PPI</text>
<line x1="440.6" y1="175.8" x2="375" y2="196.2" stroke="#333" stroke-width="0.6"/>
<line x1="462.9" y1="176" x2="521.7" y2="205.1" stroke="#333" stroke-width="0.6"/>
<text x="394" y="146.8" class="mt">Motif 8</text>
<text x="480" y="146.8" class="mt">Motif 9</text>
<text x="436.9" y="248.3" class="mt">Motif 10</text>
<line x1="370.6" y1="102.20" x2="370.6" y2="138.10" stroke="#666" stroke-width="0.45"/>
<line x1="370.6" y1="138.10" x2="540" y2="138.10" stroke="#bbb" stroke-width="0.3"/>
<line x1="369.70000000000005" y1="137.50" x2="370.6" y2="137.50" stroke="#666" stroke-width="0.35"/>
<text x="369.30" y="138.40" class="tk" text-anchor="end">0</text>
<line x1="369.70000000000005" y1="129.30" x2="370.6" y2="129.30" stroke="#666" stroke-width="0.35"/>
<text x="369.30" y="130.20" class="tk" text-anchor="end">1</text>
<line x1="369.70000000000005" y1="121.10" x2="370.6" y2="121.10" stroke="#666" stroke-width="0.35"/>
<text x="369.30" y="122.00" class="tk" text-anchor="end">2</text>
<line x1="369.70000000000005" y1="112.90" x2="370.6" y2="112.90" stroke="#666" stroke-width="0.35"/>
<text x="369.30" y="113.80" class="tk" text-anchor="end">3</text>
<line x1="369.70000000000005" y1="104.70" x2="370.6" y2="104.70" stroke="#666" stroke-width="0.35"/>
<text x="369.30" y="105.60" class="tk" text-anchor="end">4</text>
<text transform="translate(367.00,121.10) rotate(-90)" class="tk" text-anchor="middle">bits</text>
<line x1="373.10" y1="138.10" x2="373.10" y2="138.90" stroke="#999" stroke-width="0.3"/>
<line x1="378.70" y1="138.10" x2="378.70" y2="138.90" stroke="#999" stroke-width="0.3"/>
<line x1="384.30" y1="138.10" x2="384.30" y2="138.90" stroke="#999" stroke-width="0.3"/>
<line x1="389.90" y1="138.10" x2="389.90" y2="138.90" stroke="#999" stroke-width="0.3"/>
<line x1="395.50" y1="138.10" x2="395.50" y2="138.90" stroke="#999" stroke-width="0.3"/>
<line x1="401.10" y1="138.10" x2="401.10" y2="138.90" stroke="#999" stroke-width="0.3"/>
<line x1="406.70" y1="138.10" x2="406.70" y2="138.90" stroke="#999" stroke-width="0.3"/>
<line x1="412.30" y1="138.10" x2="412.30" y2="138.90" stroke="#999" stroke-width="0.3"/>
<line x1="417.90" y1="138.10" x2="417.90" y2="138.90" stroke="#999" stroke-width="0.3"/>
<line x1="423.50" y1="138.10" x2="423.50" y2="138.90" stroke="#999" stroke-width="0.3"/>
<line x1="429.10" y1="138.10" x2="429.10" y2="138.90" stroke="#999" stroke-width="0.3"/>
<line x1="434.70" y1="138.10" x2="434.70" y2="138.90" stroke="#999" stroke-width="0.3"/>
<line x1="440.30" y1="138.10" x2="440.30" y2="138.90" stroke="#999" stroke-width="0.3"/>
<line x1="445.90" y1="138.10" x2="445.90" y2="138.90" stroke="#999" stroke-width="0.3"/>
<line x1="451.50" y1="138.10" x2="451.50" y2="138.90" stroke="#999" stroke-width="0.3"/>
<line x1="457.10" y1="138.10" x2="457.10" y2="138.90" stroke="#999" stroke-width="0.3"/>
<line x1="462.70" y1="138.10" x2="462.70" y2="138.90" stroke="#999" stroke-width="0.3"/>
<line x1="468.30" y1="138.10" x2="468.30" y2="138.90" stroke="#999" stroke-width="0.3"/>
<line x1="473.90" y1="138.10" x2="473.90" y2="138.90" stroke="#999" stroke-width="0.3"/>
<line x1="479.50" y1="138.10" x2="479.50" y2="138.90" stroke="#999" stroke-width="0.3"/>
<line x1="485.10" y1="138.10" x2="485.10" y2="138.90" stroke="#999" stroke-width="0.3"/>
<line x1="490.70" y1="138.10" x2="490.70" y2="138.90" stroke="#999" stroke-width="0.3"/>
<line x1="496.30" y1="138.10" x2="496.30" y2="138.90" stroke="#999" stroke-width="0.3"/>
<line x1="501.90" y1="138.10" x2="501.90" y2="138.90" stroke="#999" stroke-width="0.3"/>
<line x1="507.50" y1="138.10" x2="507.50" y2="138.90" stroke="#999" stroke-width="0.3"/>
<line x1="513.10" y1="138.10" x2="513.10" y2="138.90" stroke="#999" stroke-width="0.3"/>
<line x1="518.70" y1="138.10" x2="518.70" y2="138.90" stroke="#999" stroke-width="0.3"/>
<line x1="524.30" y1="138.10" x2="524.30" y2="138.90" stroke="#999" stroke-width="0.3"/>
<line x1="529.90" y1="138.10" x2="529.90" y2="138.90" stroke="#999" stroke-width="0.3"/>
<line x1="535.50" y1="138.10" x2="535.50" y2="138.90" stroke="#999" stroke-width="0.3"/>
<line x1="370.6" y1="200.30" x2="370.6" y2="237.60" stroke="#666" stroke-width="0.45"/>
<line x1="370.6" y1="237.60" x2="527" y2="237.60" stroke="#bbb" stroke-width="0.3"/>
<line x1="369.70000000000005" y1="237.00" x2="370.6" y2="237.00" stroke="#666" stroke-width="0.35"/>
<text x="369.30" y="237.90" class="tk" text-anchor="end">0</text>
<line x1="369.70000000000005" y1="228.45" x2="370.6" y2="228.45" stroke="#666" stroke-width="0.35"/>
<text x="369.30" y="229.35" class="tk" text-anchor="end">1</text>
<line x1="369.70000000000005" y1="219.90" x2="370.6" y2="219.90" stroke="#666" stroke-width="0.35"/>
<text x="369.30" y="220.80" class="tk" text-anchor="end">2</text>
<line x1="369.70000000000005" y1="211.35" x2="370.6" y2="211.35" stroke="#666" stroke-width="0.35"/>
<text x="369.30" y="212.25" class="tk" text-anchor="end">3</text>
<line x1="369.70000000000005" y1="202.80" x2="370.6" y2="202.80" stroke="#666" stroke-width="0.35"/>
<text x="369.30" y="203.70" class="tk" text-anchor="end">4</text>
<text transform="translate(367.00,219.90) rotate(-90)" class="tk" text-anchor="middle">bits</text>
<line x1="373.10" y1="237.60" x2="373.10" y2="238.40" stroke="#999" stroke-width="0.3"/>
<line x1="378.70" y1="237.60" x2="378.70" y2="238.40" stroke="#999" stroke-width="0.3"/>
<line x1="384.30" y1="237.60" x2="384.30" y2="238.40" stroke="#999" stroke-width="0.3"/>
<line x1="389.90" y1="237.60" x2="389.90" y2="238.40" stroke="#999" stroke-width="0.3"/>
<line x1="395.50" y1="237.60" x2="395.50" y2="238.40" stroke="#999" stroke-width="0.3"/>
<line x1="401.10" y1="237.60" x2="401.10" y2="238.40" stroke="#999" stroke-width="0.3"/>
<line x1="406.70" y1="237.60" x2="406.70" y2="238.40" stroke="#999" stroke-width="0.3"/>
<line x1="412.30" y1="237.60" x2="412.30" y2="238.40" stroke="#999" stroke-width="0.3"/>
<line x1="417.90" y1="237.60" x2="417.90" y2="238.40" stroke="#999" stroke-width="0.3"/>
<line x1="423.50" y1="237.60" x2="423.50" y2="238.40" stroke="#999" stroke-width="0.3"/>
<line x1="429.10" y1="237.60" x2="429.10" y2="238.40" stroke="#999" stroke-width="0.3"/>
<line x1="434.70" y1="237.60" x2="434.70" y2="238.40" stroke="#999" stroke-width="0.3"/>
<line x1="440.30" y1="237.60" x2="440.30" y2="238.40" stroke="#999" stroke-width="0.3"/>
<line x1="445.90" y1="237.60" x2="445.90" y2="238.40" stroke="#999" stroke-width="0.3"/>
<line x1="451.50" y1="237.60" x2="451.50" y2="238.40" stroke="#999" stroke-width="0.3"/>
<line x1="457.10" y1="237.60" x2="457.10" y2="238.40" stroke="#999" stroke-width="0.3"/>
<line x1="462.70" y1="237.60" x2="462.70" y2="238.40" stroke="#999" stroke-width="0.3"/>
<line x1="468.30" y1="237.60" x2="468.30" y2="238.40" stroke="#999" stroke-width="0.3"/>
<line x1="473.90" y1="237.60" x2="473.90" y2="238.40" stroke="#999" stroke-width="0.3"/>
<line x1="479.50" y1="237.60" x2="479.50" y2="238.40" stroke="#999" stroke-width="0.3"/>
<line x1="485.10" y1="237.60" x2="485.10" y2="238.40" stroke="#999" stroke-width="0.3"/>
<line x1="490.70" y1="237.60" x2="490.70" y2="238.40" stroke="#999" stroke-width="0.3"/>
<line x1="496.30" y1="237.60" x2="496.30" y2="238.40" stroke="#999" stroke-width="0.3"/>
<line x1="501.90" y1="237.60" x2="501.90" y2="238.40" stroke="#999" stroke-width="0.3"/>
<line x1="507.50" y1="237.60" x2="507.50" y2="238.40" stroke="#999" stroke-width="0.3"/>
<line x1="513.10" y1="237.60" x2="513.10" y2="238.40" stroke="#999" stroke-width="0.3"/>
<line x1="518.70" y1="237.60" x2="518.70" y2="238.40" stroke="#999" stroke-width="0.3"/>
<line x1="524.30" y1="237.60" x2="524.30" y2="238.40" stroke="#999" stroke-width="0.3"/>
<text transform="translate(370.58,132.60) scale(1.057,0.351)" class="lo" fill="#1a9a2a" opacity="0.8">E</text>
<text transform="translate(370.82,134.75) scale(0.800,0.313)" class="lo" fill="#1414e0" opacity="0.8">V</text>
<text transform="translate(370.05,136.48) scale(1.302,0.239)" class="lo" fill="#ff10ff" opacity="0.8">S</text>
<text transform="translate(376.60,130.80) scale(0.660,0.550)" class="lo" fill="#1a9a2a" opacity="0.8">E</text>
<text transform="translate(376.75,133.93) scale(0.500,0.463)" class="lo" fill="#1414e0" opacity="0.8">V</text>
<text transform="translate(376.27,136.46) scale(0.814,0.358)" class="lo" fill="#ff10ff" opacity="0.8">S</text>
<text transform="translate(380.45,130.73) scale(0.500,0.493)" class="lo" fill="#1414e0" opacity="0.8">V</text>
<text transform="translate(380.30,134.00) scale(0.660,0.473)" class="lo" fill="#1a9a2a" opacity="0.8">E</text>
<text transform="translate(380.45,136.50) scale(0.496,0.364)" class="lo" fill="#d01010" opacity="0.8">A</text>
<text transform="translate(384.15,130.50) scale(0.496,0.611)" class="lo" fill="#1414e0" opacity="0.8">Y</text>
<text transform="translate(384.01,134.00) scale(0.642,0.519)" class="lo" fill="#1a9a2a" opacity="0.8">E</text>
<text transform="translate(384.05,136.50) scale(0.500,0.366)" class="lo" fill="#ff10ff" opacity="0.8">K</text>
<text transform="translate(387.48,133.46) scale(0.488,0.448)" class="lo" fill="#1a9a2a" opacity="0.8">S</text>
<text transform="translate(387.73,136.50) scale(0.365,0.443)" class="lo" fill="#d01010" opacity="0.8">T</text>
<text transform="translate(370.44,130.10) scale(1.196,1.786)" class="lo" fill="#f0e000" stroke="#f0e000" stroke-width="0.2" vector-effect="non-scaling-stroke">P</text>
<text transform="translate(390.56,125.20) scale(0.808,1.328)" class="lo" fill="#1414e0" stroke="#1414e0" stroke-width="0.2" vector-effect="non-scaling-stroke">L</text>
<text transform="translate(390.11,136.50) scale(0.627,1.695)" class="lo" fill="#6060c0" stroke="#6060c0" stroke-width="0.2" vector-effect="non-scaling-stroke">M</text>
<text transform="translate(395.69,136.50) scale(1.030,4.687)" class="lo" fill="#1a9a2a" stroke="#1a9a2a" stroke-width="0.2" vector-effect="non-scaling-stroke">N</text>
<text transform="translate(402.82,136.50) scale(0.823,4.955)" class="lo" fill="#1414e0" stroke="#1414e0" stroke-width="0.2" vector-effect="non-scaling-stroke">A</text>
<text transform="translate(408.71,136.50) scale(1.306,4.931)" class="lo" fill="#1414e0" stroke="#1414e0" stroke-width="0.2" vector-effect="non-scaling-stroke">F</text>
<text transform="translate(417.15,125.70) scale(0.840,1.542)" class="lo" fill="#ff10ff" stroke="#ff10ff" stroke-width="0.2" vector-effect="non-scaling-stroke">D</text>
<text transform="translate(417.09,130.30) scale(1.038,0.672)" class="lo" fill="#ff10ff" stroke="#ff10ff" stroke-width="0.2" vector-effect="non-scaling-stroke">E</text>
<text transform="translate(417.36,136.50) scale(0.803,0.251)" class="lo" fill="#ff9900" opacity="0.8">R</text>
<text transform="translate(416.83,134.83) scale(1.186,0.275)" class="lo" fill="#ff10ff" opacity="0.8">S</text>
<text transform="translate(425.56,125.00) scale(0.679,1.802)" class="lo" fill="#1414e0" stroke="#1414e0" stroke-width="0.2" vector-effect="non-scaling-stroke">I</text>
<text transform="translate(424.20,133.40) scale(0.654,1.069)" class="lo" fill="#1414e0" stroke="#1414e0" stroke-width="0.2" vector-effect="non-scaling-stroke">L</text>
<text transform="translate(424.46,136.50) scale(0.472,0.115)" class="lo" fill="#f0e000" opacity="0.8">R</text>
<text transform="translate(424.46,135.75) scale(0.472,0.161)" class="lo" fill="#ff10ff" opacity="0.8">R</text>
<text transform="translate(428.18,136.50) scale(0.736,0.153)" class="lo" fill="#f0e000" opacity="0.8">E</text>
<text transform="translate(427.81,135.48) scale(0.907,0.164)" class="lo" fill="#ff9900" opacity="0.8">S</text>
<text transform="translate(432.55,136.50) scale(0.717,4.992)" class="lo" fill="#1414e0" stroke="#1414e0" stroke-width="0.2" vector-effect="non-scaling-stroke">I</text>
<text transform="translate(434.96,132.70) scale(1.140,3.045)" class="lo" fill="#1a9a2a" stroke="#1a9a2a" stroke-width="0.2" vector-effect="non-scaling-stroke">S</text>
<text transform="translate(441.05,128.90) scale(0.698,1.000)" class="lo" fill="#1a9a2a" stroke="#1a9a2a" stroke-width="0.2" vector-effect="non-scaling-stroke">S</text>
<text transform="translate(444.34,130.00) scale(0.547,0.992)" class="lo" fill="#1414e0" stroke="#1414e0" stroke-width="0.2" vector-effect="non-scaling-stroke">E</text>
<text transform="translate(441.31,136.45) scale(0.593,0.465)" class="lo" fill="#d01010" opacity="0.8">S</text>
<text transform="translate(441.59,133.38) scale(0.381,0.481)" class="lo" fill="#ff10ff" opacity="0.8">N</text>
<text transform="translate(444.56,136.50) scale(0.443,0.279)" class="lo" fill="#ff10ff" opacity="0.8">T</text>
<text transform="translate(444.53,134.67) scale(0.402,0.281)" class="lo" fill="#1414e0" opacity="0.8">R</text>
<text transform="translate(444.61,132.84) scale(0.362,0.298)" class="lo" fill="#1a9a2a" opacity="0.8">A</text>
<text transform="translate(447.06,133.56) scale(1.442,4.358)" class="lo" fill="#1a9a2a" stroke="#1a9a2a" stroke-width="0.2" vector-effect="non-scaling-stroke">S</text>
<text transform="translate(454.91,129.93) scale(0.722,0.746)" class="lo" fill="#1a9a2a" stroke="#1a9a2a" stroke-width="0.2" vector-effect="non-scaling-stroke">Q</text>
<text transform="translate(455.25,136.50) scale(0.765,0.216)" class="lo" fill="#ff9900" opacity="0.8">T</text>
<text transform="translate(455.25,135.09) scale(0.765,0.293)" class="lo" fill="#f0e000" opacity="0.8">T</text>
<text transform="translate(461.58,133.61) scale(1.046,3.925)" class="lo" fill="#ff9900" stroke="#ff9900" stroke-width="0.2" vector-effect="non-scaling-stroke">G</text>
<text transform="translate(469.14,125.20) scale(0.857,1.924)" class="lo" fill="#1414e0" stroke="#1414e0" stroke-width="0.2" vector-effect="non-scaling-stroke">F</text>
<text transform="translate(469.16,136.50) scale(0.808,1.695)" class="lo" fill="#1414e0" stroke="#1414e0" stroke-width="0.2" vector-effect="non-scaling-stroke">L</text>
<text transform="translate(474.29,129.10) scale(1.038,2.519)" class="lo" fill="#ff10ff" stroke="#ff10ff" stroke-width="0.2" vector-effect="non-scaling-stroke">D</text>
<text transform="translate(474.30,136.50) scale(1.015,1.099)" class="lo" fill="#1a9a2a" stroke="#1a9a2a" stroke-width="0.2" vector-effect="non-scaling-stroke">N</text>
<text transform="translate(481.48,135.00) scale(1.058,4.305)" class="lo" fill="#1414e0" stroke="#1414e0" stroke-width="0.2" vector-effect="non-scaling-stroke">L</text>
<text transform="translate(487.32,128.90) scale(1.349,2.030)" class="lo" fill="#1a9a2a" stroke="#1a9a2a" stroke-width="0.2" vector-effect="non-scaling-stroke">S</text>
<text transform="translate(488.21,136.50) scale(0.939,0.316)" class="lo" fill="#f0e000" opacity="0.8">T</text>
<text transform="translate(488.32,134.39) scale(0.771,0.261)" class="lo" fill="#ff9900" opacity="0.8">V</text>
<text transform="translate(487.58,132.65) scale(1.256,0.370)" class="lo" fill="#d01010" opacity="0.8">S</text>
<text transform="translate(494.84,127.08) scale(0.892,1.164)" class="lo" fill="#ff9900" stroke="#ff9900" stroke-width="0.2" vector-effect="non-scaling-stroke">G</text>
<text transform="translate(495.32,136.41) scale(0.771,0.624)" class="lo" fill="#f0e000" opacity="0.8">V</text>
<text transform="translate(495.32,132.32) scale(0.766,0.695)" class="lo" fill="#ff9900" opacity="0.8">A</text>
<text transform="translate(501.07,135.00) scale(1.115,4.458)" class="lo" fill="#1414e0" stroke="#1414e0" stroke-width="0.2" vector-effect="non-scaling-stroke">L</text>
<text transform="translate(506.78,134.00) scale(1.388,3.863)" class="lo" fill="#1414e0" stroke="#1414e0" stroke-width="0.2" vector-effect="non-scaling-stroke">F</text>
<text transform="translate(514.67,129.10) scale(1.113,1.191)" class="lo" fill="#ff10ff" stroke="#ff10ff" stroke-width="0.2" vector-effect="non-scaling-stroke">E</text>
<text transform="translate(515.27,132.50) scale(0.763,0.489)" class="lo" fill="#1a9a2a" opacity="0.8">D</text>
<text transform="translate(515.28,136.50) scale(0.746,0.595)" class="lo" fill="#ff9900" opacity="0.8">N</text>
<text transform="translate(520.43,130.50) scale(0.580,0.687)" class="lo" fill="#ff10ff" opacity="0.8">D</text>
<text transform="translate(520.03,133.36) scale(0.884,0.433)" class="lo" fill="#d01010" opacity="0.8">S</text>
<text transform="translate(520.43,136.50) scale(0.567,0.473)" class="lo" fill="#1a9a2a" opacity="0.8">N</text>
<text transform="translate(524.38,130.00) scale(0.717,0.687)" class="lo" fill="#ff10ff" opacity="0.8">E</text>
<text transform="translate(524.03,133.15) scale(0.884,0.478)" class="lo" fill="#ff9900" opacity="0.8">S</text>
<text transform="translate(524.55,136.50) scale(0.539,0.500)" class="lo" fill="#1a9a2a" opacity="0.8">A</text>
<text transform="translate(528.43,130.50) scale(0.559,0.687)" class="lo" fill="#ff10ff" opacity="0.8">K</text>
<text transform="translate(528.38,133.40) scale(0.717,0.443)" class="lo" fill="#d01010" opacity="0.8">E</text>
<text transform="translate(528.47,136.50) scale(0.661,0.473)" class="lo" fill="#f0e000" opacity="0.8">T</text>
<text transform="translate(532.36,130.00) scale(0.784,0.672)" class="lo" fill="#ff10ff" opacity="0.8">P</text>
<text transform="translate(532.03,133.25) scale(0.884,0.493)" class="lo" fill="#1a9a2a" opacity="0.8">S</text>
<text transform="translate(532.43,136.50) scale(0.580,0.489)" class="lo" fill="#ff9900" opacity="0.8">D</text>
<text transform="translate(536.03,129.92) scale(0.884,0.806)" class="lo" fill="#ff10ff" opacity="0.8">S</text>
<text transform="translate(536.38,133.30) scale(0.717,0.504)" class="lo" fill="#d01010" opacity="0.8">E</text>
<text transform="translate(536.37,136.45) scale(0.585,0.478)" class="lo" fill="#1a9a2a" opacity="0.8">G</text>
<text transform="translate(370.74,227.40) scale(1.189,1.344)" class="lo" fill="#ff10ff" stroke="#ff10ff" stroke-width="0.2" vector-effect="non-scaling-stroke">E</text>
<text transform="translate(371.22,236.80) scale(0.837,0.317)" class="lo" fill="#ff10ff" opacity="0.8">A</text>
<text transform="translate(371.02,234.71) scale(0.929,0.427)" class="lo" fill="#1a9a2a" opacity="0.8">R</text>
<text transform="translate(371.22,231.91) scale(0.837,0.328)" class="lo" fill="#ff10ff" opacity="0.8">A</text>
<text transform="translate(377.57,236.80) scale(0.626,0.613)" class="lo" fill="#1a9a2a" opacity="0.8">T</text>
<text transform="translate(377.16,232.73) scale(0.837,0.511)" class="lo" fill="#ff10ff" opacity="0.8">S</text>
<text transform="translate(381.54,236.80) scale(0.537,0.427)" class="lo" fill="#f0e000" opacity="0.8">N</text>
<text transform="translate(381.16,233.97) scale(0.837,0.350)" class="lo" fill="#d01010" opacity="0.8">S</text>
<text transform="translate(381.65,231.66) scale(0.511,0.305)" class="lo" fill="#f0e000" opacity="0.8">A</text>
<text transform="translate(385.25,233.50) scale(1.181,3.878)" class="lo" fill="#d01010" stroke="#d01010" stroke-width="0.2" vector-effect="non-scaling-stroke">R</text>
<text transform="translate(392.70,236.10) scale(1.327,4.947)" class="lo" fill="#1414e0" stroke="#1414e0" stroke-width="0.2" vector-effect="non-scaling-stroke">F</text>
<text transform="translate(400.33,227.40) scale(0.852,0.947)" class="lo" fill="#1a9a2a" stroke="#1a9a2a" stroke-width="0.2" vector-effect="non-scaling-stroke">T</text>
<text transform="translate(400.36,232.00) scale(0.715,0.672)" class="lo" fill="#1414e0" stroke="#1414e0" stroke-width="0.2" vector-effect="non-scaling-stroke">X</text>
<text transform="translate(400.50,236.80) scale(0.672,0.313)" class="lo" fill="#f0e000" opacity="0.8">N</text>
<text transform="translate(400.02,234.73) scale(1.047,0.214)" class="lo" fill="#d01010" opacity="0.8">S</text>
<text transform="translate(406.79,229.70) scale(1.558,3.000)" class="lo" fill="#1a9a2a" stroke="#1a9a2a" stroke-width="0.2" vector-effect="non-scaling-stroke">S</text>
<text transform="translate(407.78,236.80) scale(1.096,0.346)" class="lo" fill="#ff10ff" opacity="0.8">T</text>
<text transform="translate(407.61,234.51) scale(0.969,0.274)" class="lo" fill="#ff10ff" opacity="0.8">G</text>
<text transform="translate(414.53,236.73) scale(0.687,0.743)" class="lo" fill="#d01010" opacity="0.8">G</text>
<text transform="translate(414.60,231.82) scale(0.657,0.689)" class="lo" fill="#d01010" opacity="0.8">K</text>
<text transform="translate(419.39,236.76) scale(0.687,0.412)" class="lo" fill="#d01010" opacity="0.8">G</text>
<text transform="translate(419.51,234.04) scale(0.777,0.310)" class="lo" fill="#f0e000" opacity="0.8">T</text>
<text transform="translate(419.51,232.01) scale(0.777,0.376)" class="lo" fill="#f0e000" opacity="0.8">T</text>
<text transform="translate(424.47,236.72) scale(0.638,0.519)" class="lo" fill="#ff10ff" opacity="0.8">V</text>
<text transform="translate(424.47,233.23) scale(0.638,0.624)" class="lo" fill="#f0e000" opacity="0.8">V</text>
<text transform="translate(429.02,228.20) scale(1.258,2.397)" class="lo" fill="#f0e000" stroke="#f0e000" stroke-width="0.2" vector-effect="non-scaling-stroke">P</text>
<text transform="translate(428.74,236.78) scale(1.326,0.242)" class="lo" fill="#ff9900" opacity="0.8">S</text>
<text transform="translate(429.52,235.15) scale(0.814,0.241)" class="lo" fill="#d01010" opacity="0.8">V</text>
<text transform="translate(429.34,233.56) scale(0.851,0.352)" class="lo" fill="#f0e000" opacity="0.8">N</text>
<text transform="translate(438.01,228.20) scale(0.865,2.379)" class="lo" fill="#1414e0" stroke="#1414e0" stroke-width="0.2" vector-effect="non-scaling-stroke">A</text>
<text transform="translate(438.22,236.74) scale(0.814,0.422)" class="lo" fill="#d01010" opacity="0.8">V</text>
<text transform="translate(438.04,233.98) scale(0.851,0.549)" class="lo" fill="#d01010" opacity="0.8">N</text>
<text transform="translate(444.18,231.58) scale(1.419,1.164)" class="lo" fill="#1a9a2a" stroke="#1a9a2a" stroke-width="0.2" vector-effect="non-scaling-stroke">S</text>
<text transform="translate(444.44,236.76) scale(1.326,0.362)" class="lo" fill="#f0e000" opacity="0.8">S</text>
<text transform="translate(444.98,234.37) scale(1.075,0.355)" class="lo" fill="#d01010" opacity="0.8">E</text>
<text transform="translate(452.82,227.13) scale(1.047,0.701)" class="lo" fill="#ff10ff" opacity="0.8">S</text>
<text transform="translate(453.80,232.60) scale(1.022,0.794)" class="lo" fill="#1414e0" stroke="#1414e0" stroke-width="0.2" vector-effect="non-scaling-stroke">X</text>
<text transform="translate(453.30,236.80) scale(1.340,0.125)" class="lo" fill="#ff9900" opacity="0.8">E</text>
<text transform="translate(453.60,235.98) scale(1.007,0.139)" class="lo" fill="#1a9a2a" opacity="0.8">A</text>
<text transform="translate(453.60,235.04) scale(1.014,0.149)" class="lo" fill="#ff9900" opacity="0.8">V</text>
<text transform="translate(462.38,227.40) scale(0.642,2.412)" class="lo" fill="#1414e0" stroke="#1414e0" stroke-width="0.2" vector-effect="non-scaling-stroke">I</text>
<text transform="translate(461.12,232.49) scale(0.829,0.746)" class="lo" fill="#1414e0" stroke="#1414e0" stroke-width="0.2" vector-effect="non-scaling-stroke">V</text>
<text transform="translate(461.09,236.80) scale(1.019,0.206)" class="lo" fill="#1a9a2a" opacity="0.8">E</text>
<text transform="translate(461.16,235.45) scale(0.794,0.162)" class="lo" fill="#f0e000" opacity="0.8">K</text>
<text transform="translate(461.16,234.39) scale(0.794,0.173)" class="lo" fill="#1a9a2a" opacity="0.8">K</text>
<text transform="translate(469.38,227.40) scale(0.642,1.344)" class="lo" fill="#1414e0" stroke="#1414e0" stroke-width="0.2" vector-effect="non-scaling-stroke">I</text>
<text transform="translate(467.21,232.49) scale(0.900,0.746)" class="lo" fill="#1414e0" stroke="#1414e0" stroke-width="0.2" vector-effect="non-scaling-stroke">V</text>
<text transform="translate(467.17,236.80) scale(1.113,0.135)" class="lo" fill="#d01010" opacity="0.8">E</text>
<text transform="translate(467.42,235.91) scale(0.837,0.136)" class="lo" fill="#f0e000" opacity="0.8">A</text>
<text transform="translate(473.71,228.03) scale(1.209,1.687)" class="lo" fill="#1a9a2a" stroke="#1a9a2a" stroke-width="0.2" vector-effect="non-scaling-stroke">S</text>
<text transform="translate(473.98,232.60) scale(1.075,0.641)" class="lo" fill="#ff10ff" stroke="#ff10ff" stroke-width="0.2" vector-effect="non-scaling-stroke">E</text>
<text transform="translate(474.17,236.78) scale(0.815,0.183)" class="lo" fill="#d01010" opacity="0.8">G</text>
<text transform="translate(474.32,235.57) scale(0.922,0.191)" class="lo" fill="#d01010" opacity="0.8">T</text>
<text transform="translate(480.27,228.40) scale(1.103,1.893)" class="lo" fill="#d01010" stroke="#d01010" stroke-width="0.2" vector-effect="non-scaling-stroke">K</text>
<text transform="translate(480.69,232.60) scale(1.039,0.611)" class="lo" fill="#d01010" stroke="#d01010" stroke-width="0.2" vector-effect="non-scaling-stroke">R</text>
<text transform="translate(480.55,236.80) scale(1.235,0.104)" class="lo" fill="#1414e0" opacity="0.8">T</text>
<text transform="translate(480.46,236.12) scale(1.118,0.116)" class="lo" fill="#f0e000" opacity="0.8">R</text>
<text transform="translate(480.55,235.36) scale(1.235,0.172)" class="lo" fill="#f0e000" opacity="0.8">T</text>
<text transform="translate(489.10,223.00) scale(1.000,1.603)" class="lo" fill="#1414e0" stroke="#1414e0" stroke-width="0.2" vector-effect="non-scaling-stroke">L</text>
<text transform="translate(490.48,232.40) scale(0.906,1.405)" class="lo" fill="#1414e0" stroke="#1414e0" stroke-width="0.2" vector-effect="non-scaling-stroke">I</text>
<text transform="translate(489.37,236.80) scale(0.756,0.229)" class="lo" fill="#ff9900" opacity="0.8">R</text>
<text transform="translate(489.39,235.30) scale(0.716,0.344)" class="lo" fill="#f0e000" opacity="0.8">N</text>
<text transform="translate(495.96,231.70) scale(1.472,3.786)" class="lo" fill="#ff10ff" stroke="#ff10ff" stroke-width="0.2" vector-effect="non-scaling-stroke">E</text>
<text transform="translate(496.27,236.80) scale(1.104,0.289)" class="lo" fill="#1a9a2a" opacity="0.8">N</text>
<text transform="translate(495.48,234.88) scale(1.721,0.276)" class="lo" fill="#1a9a2a" opacity="0.8">S</text>
<text transform="translate(504.75,227.40) scale(1.151,2.275)" class="lo" fill="#ff10ff" stroke="#ff10ff" stroke-width="0.2" vector-effect="non-scaling-stroke">E</text>
<text transform="translate(504.82,232.50) scale(0.931,0.748)" class="lo" fill="#ff10ff" stroke="#ff10ff" stroke-width="0.2" vector-effect="non-scaling-stroke">D</text>
<text transform="translate(505.10,236.80) scale(0.991,0.334)" class="lo" fill="#f0e000" opacity="0.8">T</text>
<text transform="translate(505.03,234.61) scale(0.898,0.211)" class="lo" fill="#ff9900" opacity="0.8">R</text>
<text transform="translate(512.02,227.40) scale(0.774,1.344)" class="lo" fill="#1414e0" stroke="#1414e0" stroke-width="0.2" vector-effect="non-scaling-stroke">Y</text>
<text transform="translate(513.54,232.20) scale(0.755,0.702)" class="lo" fill="#1414e0" stroke="#1414e0" stroke-width="0.2" vector-effect="non-scaling-stroke">I</text>
<text transform="translate(511.56,236.79) scale(1.140,0.101)" class="lo" fill="#f0e000" opacity="0.8">S</text>
<text transform="translate(511.56,236.11) scale(1.140,0.119)" class="lo" fill="#f0e000" opacity="0.8">S</text>
<text transform="translate(512.02,235.33) scale(0.925,0.095)" class="lo" fill="#d01010" opacity="0.8">E</text>
<text transform="translate(518.10,231.70) scale(0.993,3.182)" class="lo" fill="#1414e0" stroke="#1414e0" stroke-width="0.2" vector-effect="non-scaling-stroke">A</text>
<text transform="translate(518.61,234.56) scale(0.965,0.403)" class="lo" fill="#1414e0" opacity="0.8">C</text>
<text transform="translate(517.40,236.79) scale(1.535,0.108)" class="lo" fill="#d01010" opacity="0.8">S</text>
<text transform="translate(518.31,236.07) scale(0.936,0.081)" class="lo" fill="#f0e000" opacity="0.8">A</text>
<text transform="translate(518.31,235.54) scale(0.936,0.114)" class="lo" fill="#1414e0" opacity="0.8">A</text>
</svg>
</body></html>
